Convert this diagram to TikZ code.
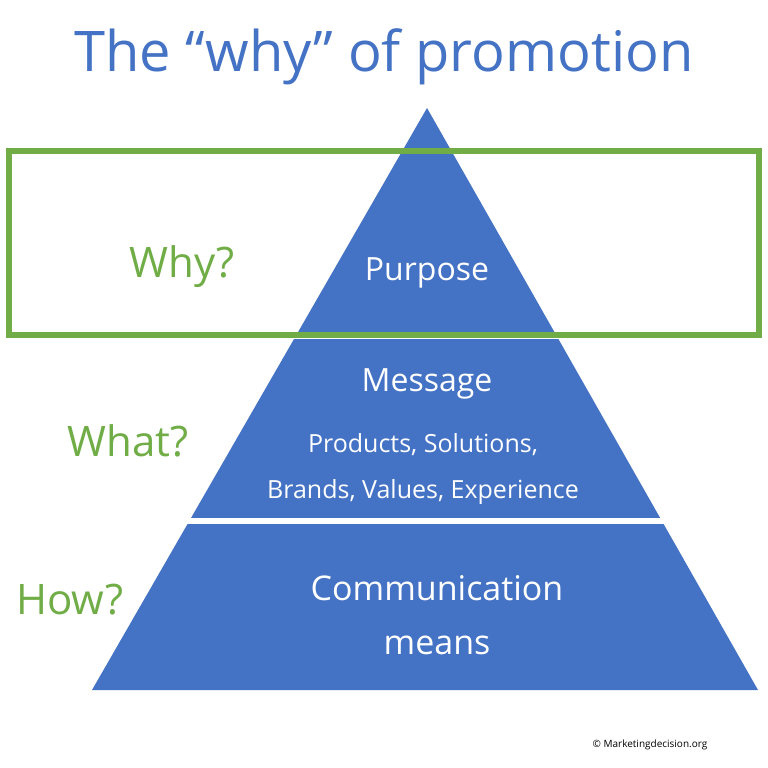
\documentclass[tikz,border=0pt]{standalone}
\usepackage{fontspec}
\setmainfont{Open Sans}
\usetikzlibrary{positioning}
\definecolor{pyrblue}{RGB}{68,114,196}
\definecolor{qgreen}{RGB}{112,173,71}
\tikzset{label/.style={text=white, align=center},
	question/.style={text=qgreen, font=\fontsize{42}{46}\selectfont},
	band/.style={draw=white, line width=6pt}}
\begin{document}
\begin{tikzpicture}[x=1pt,y=-1pt,every node/.style={inner sep=0pt}]
		\useasboundingbox(0,0)rectangle(768,768);
		\fill[white](0,0)rectangle(768,768);
		\node[text=pyrblue,font=\fontsize{56}{60}\selectfont](title)at(384,57){The “why” of promotion};
		
		\fill[pyrblue](427,108)coordinate(apex)--(758,690)coordinate(br)--(92,690)coordinate(bl)--cycle;
		\draw[band](200,336)coordinate(c1)--(660,336)coordinate(c2);
		\draw[band](150,521)coordinate(c3)--(700,521)coordinate(c4);
		\draw[qgreen,line width=6pt](9,151)rectangle(759,335);
		
		\node[label,font=\fontsize{32}{36}\selectfont](purpose)at(427,273){Purpose};
		\node[label,font=\fontsize{32}{36}\selectfont](message)at(427,384){Message};
		\node[label,font=\fontsize{25}{45}\selectfont](means)at(423,469){Products, Solutions,\\Brands, Values, Experience};
		\node[label,font=\fontsize{34}{54}\selectfont](comm)at(437,615){Communication\\means};
		
		\node[question](why)at(182,267){Why?};
		\node[question](what)at(128,441){What?};
		\node[question](how)at(70,600){How?};
		\node[font=\fontsize{10}{12}\selectfont](copy)at(650,745){© Marketingdecision.org};
	\end{tikzpicture}
\end{document}
